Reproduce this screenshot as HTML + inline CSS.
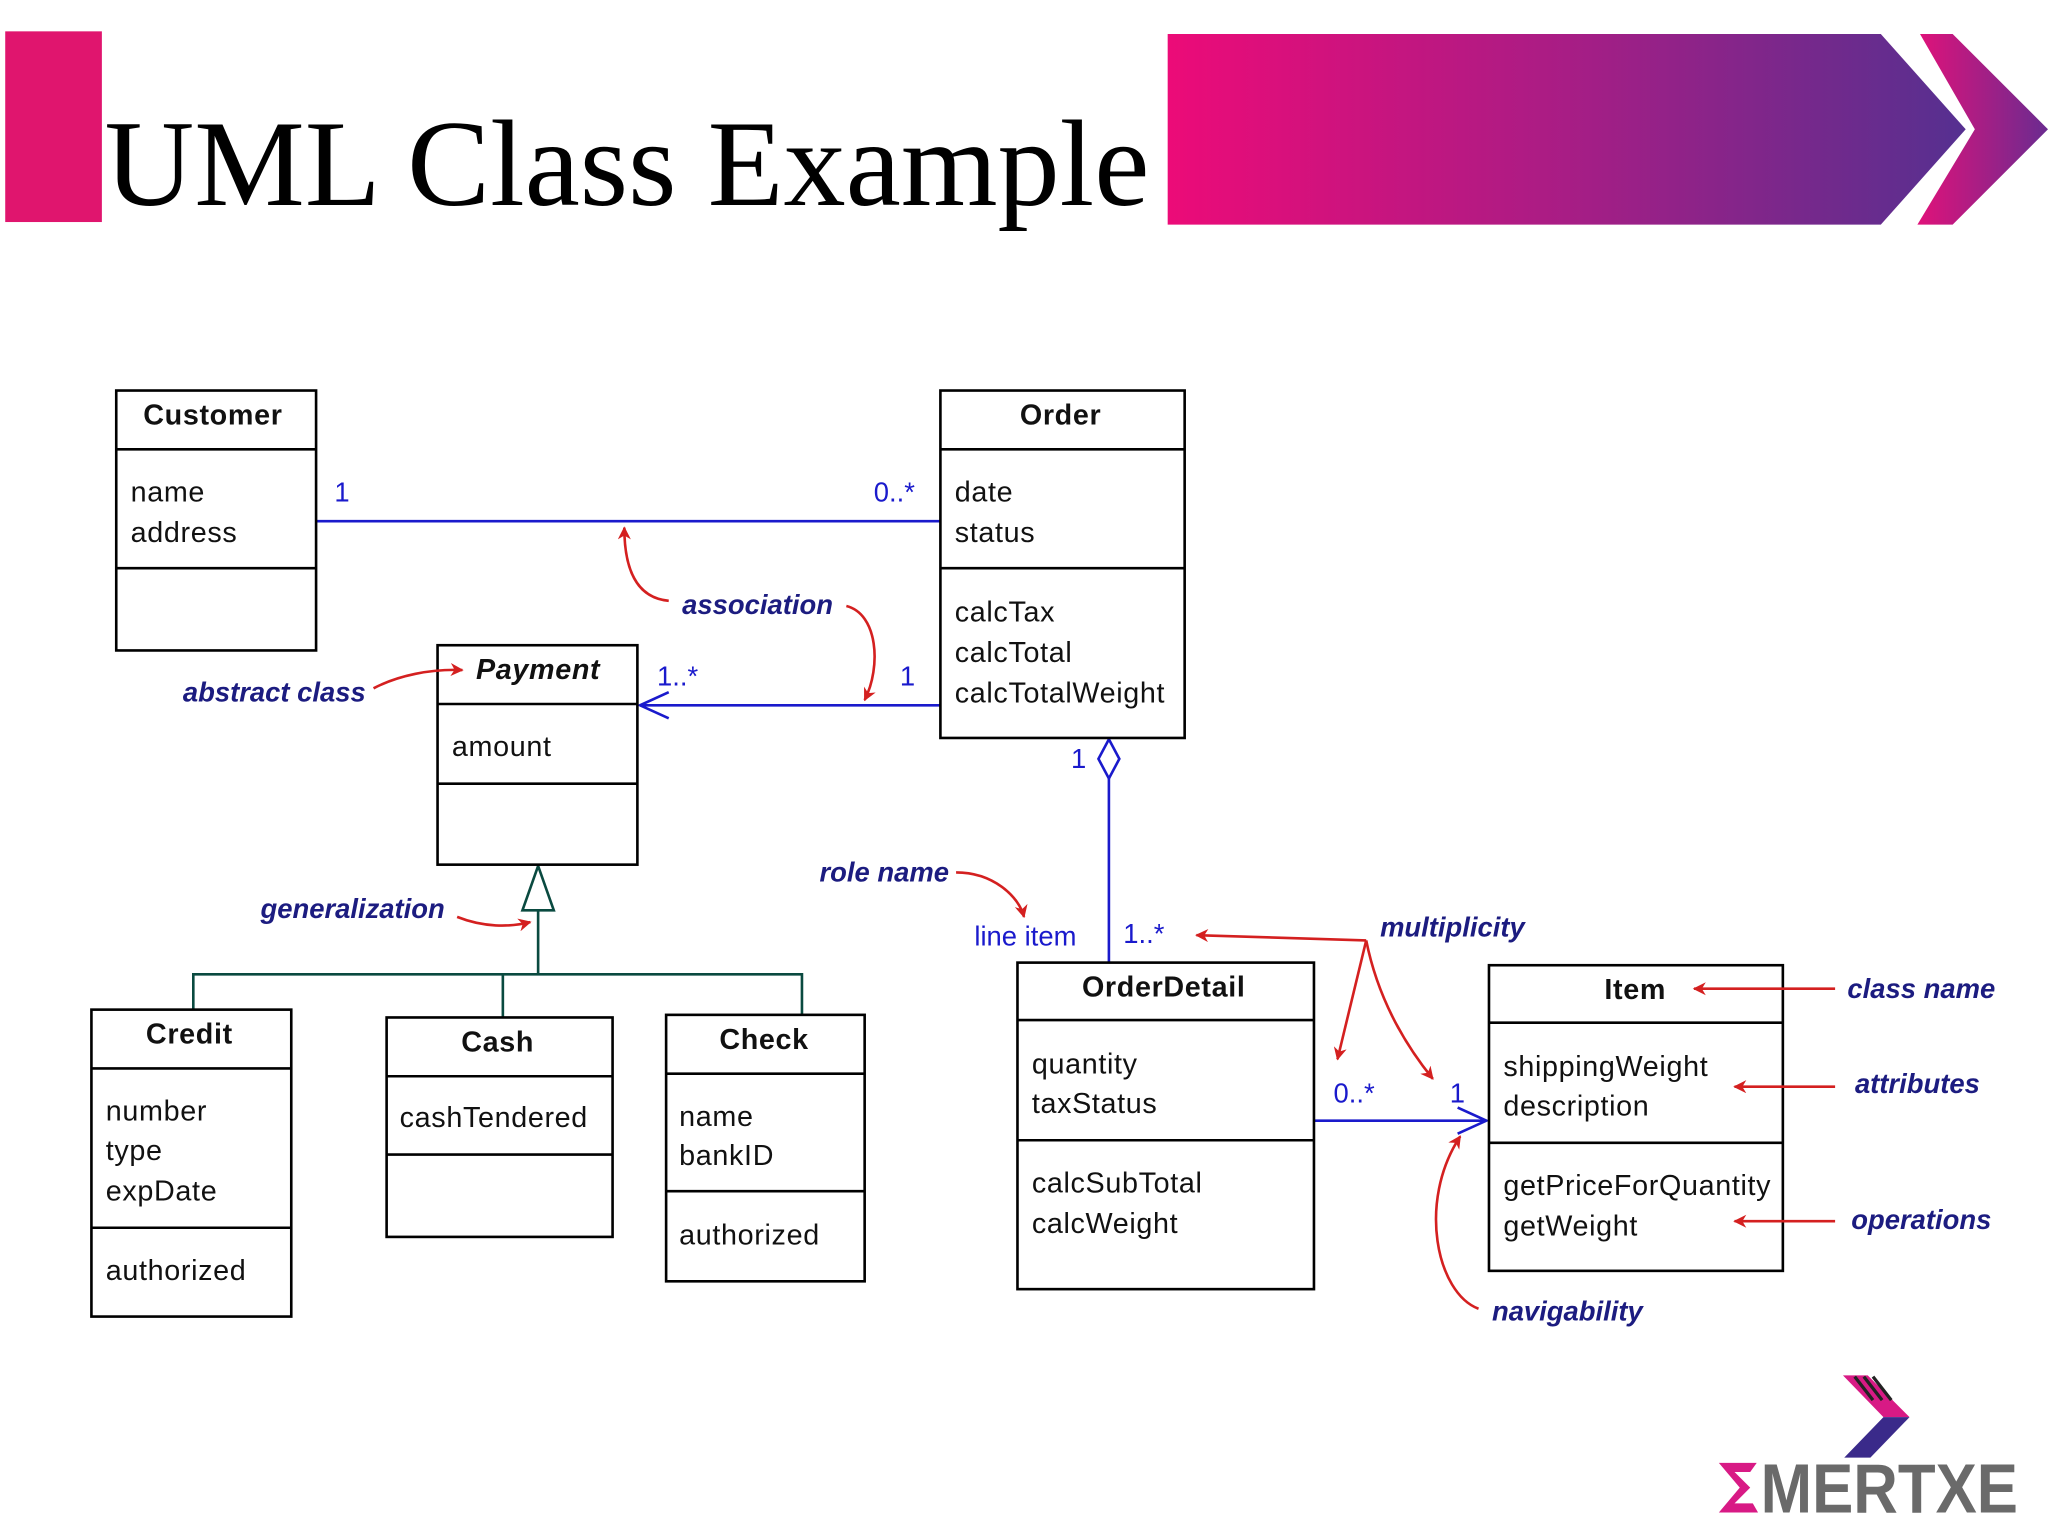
<!DOCTYPE html>
<html><head><meta charset="utf-8"><style>
html,body{margin:0;padding:0;background:#fff;}
svg{display:block}
.t{font-family:"Liberation Sans",sans-serif;font-size:22px;fill:#111;letter-spacing:0.5px}
.b{font-weight:bold;text-anchor:middle}
.bl{font-family:"Liberation Sans",sans-serif;font-size:21px;fill:#1a1acc}
.an{font-family:"Liberation Sans",sans-serif;font-size:21px;fill:#1c1c80;font-style:italic;font-weight:bold;text-anchor:middle}
.box{fill:#fff;stroke:#000;stroke-width:2}
.ln{stroke:#000;stroke-width:2}
.red{fill:none;stroke:#d42020;stroke-width:2}
</style></head><body>
<svg width="2048" height="1536" viewBox="0 0 1568 1176" xmlns="http://www.w3.org/2000/svg">
<defs>
<linearGradient id="g" x1="0" x2="1"><stop offset="0" stop-color="#ec0b78"/><stop offset="0.5" stop-color="#a81d85"/><stop offset="1" stop-color="#553090"/></linearGradient>
<linearGradient id="g2" x1="0" x2="1"><stop offset="0" stop-color="#e0127a"/><stop offset="1" stop-color="#6a2b90"/></linearGradient>
<marker id="ra" markerWidth="10" markerHeight="10" refX="9" refY="5" orient="auto" markerUnits="userSpaceOnUse"><path d="M0,0 L10,5 L0,10 L3,5 Z" fill="#d42020"/></marker>
</defs>
<rect x="4" y="24" width="74" height="146" fill="#e0156e"/>
<text x="80" y="157" font-family="Liberation Serif,serif" font-size="94" fill="#000" textLength="800" lengthAdjust="spacingAndGlyphs">UML Class Example</text>
<path d="M894,26 H1440 L1505,99 L1440,172 H894 Z" fill="url(#g)"/>
<path d="M1470,26 H1495 L1568,99 L1495,172 H1468 L1512,99 Z" fill="url(#g2)"/>

<line x1="242" y1="399" x2="720" y2="399" stroke="#1a1acc" stroke-width="2"/>
<line x1="490" y1="540" x2="720" y2="540" stroke="#1a1acc" stroke-width="2"/>
<path d="M512,530 L490,540 L512,550" fill="none" stroke="#1a1acc" stroke-width="2"/>
<path d="M849,566 L857,581 L849,596 L841,581 Z" fill="#fff" stroke="#1a1acc" stroke-width="2"/>
<line x1="849" y1="596" x2="849" y2="737" stroke="#1a1acc" stroke-width="2"/>
<line x1="1006" y1="858" x2="1138" y2="858" stroke="#1a1acc" stroke-width="2"/>
<path d="M1116,848 L1138,858 L1116,868" fill="none" stroke="#1a1acc" stroke-width="2"/>
<g stroke="#0a4a40" stroke-width="2" fill="none">
<path d="M412,663 L424,697 L400,697 Z" fill="#fff"/>
<path d="M412,697 V746 M148,773 V746 H614 V777 M385,746 V779"/>
</g>

<rect class="box" x="89" y="299" width="153" height="199"/><path class="ln" d="M89,344H242M89,435H242"/>
<text class="t b" x="163" y="325">Customer</text>
<text class="t" x="100" y="384">name</text><text class="t" x="100" y="415">address</text>

<rect class="box" x="720" y="299" width="187" height="266"/><path class="ln" d="M720,344H907M720,435H907"/>
<text class="t b" x="812" y="325">Order</text>
<text class="t" x="731" y="384">date</text><text class="t" x="731" y="415">status</text>
<text class="t" x="731" y="476">calcTax</text><text class="t" x="731" y="507">calcTotal</text><text class="t" x="731" y="538">calcTotalWeight</text>

<rect class="box" x="335" y="494" width="153" height="168"/><path class="ln" d="M335,539H488M335,600H488"/>
<text class="t b" x="412" y="520" font-style="italic">Payment</text>
<text class="t" x="346" y="579">amount</text>

<rect class="box" x="70" y="773" width="153" height="235"/><path class="ln" d="M70,818H223M70,940H223"/>
<text class="t b" x="145" y="799">Credit</text>
<text class="t" x="81" y="858">number</text><text class="t" x="81" y="888">type</text><text class="t" x="81" y="919">expDate</text><text class="t" x="81" y="980">authorized</text>

<rect class="box" x="296" y="779" width="173" height="168"/><path class="ln" d="M296,824H469M296,884H469"/>
<text class="t b" x="381" y="805">Cash</text>
<text class="t" x="306" y="863">cashTendered</text>

<rect class="box" x="510" y="777" width="152" height="204"/><path class="ln" d="M510,822H662M510,912H662"/>
<text class="t b" x="585" y="803">Check</text>
<text class="t" x="520" y="862">name</text><text class="t" x="520" y="892">bankID</text><text class="t" x="520" y="953">authorized</text>

<rect class="box" x="779" y="737" width="227" height="250"/><path class="ln" d="M779,781H1006M779,873H1006"/>
<text class="t b" x="891" y="763">OrderDetail</text>
<text class="t" x="790" y="822">quantity</text><text class="t" x="790" y="852">taxStatus</text>
<text class="t" x="790" y="913">calcSubTotal</text><text class="t" x="790" y="944">calcWeight</text>

<rect class="box" x="1140" y="739" width="225" height="234"/><path class="ln" d="M1140,783H1365M1140,875H1365"/>
<text class="t b" x="1252" y="765">Item</text>
<text class="t" x="1151" y="824">shippingWeight</text><text class="t" x="1151" y="854">description</text>
<text class="t" x="1151" y="915">getPriceForQuantity</text><text class="t" x="1151" y="946">getWeight</text>

<text class="bl" x="256" y="384">1</text>
<text class="bl" x="669" y="384">0..*</text>
<text class="bl" x="503" y="525">1..*</text>
<text class="bl" x="689" y="525">1</text>
<text class="bl" x="820" y="588">1</text>
<text class="bl" x="746" y="724">line item</text>
<text class="bl" x="860" y="722">1..*</text>
<text class="bl" x="1021" y="844">0..*</text>
<text class="bl" x="1110" y="844">1</text>

<text class="an" x="580" y="470">association</text>
<text class="an" x="210" y="537">abstract class</text>
<text class="an" x="270" y="703">generalization</text>
<text class="an" x="677" y="675">role name</text>
<text class="an" x="1112" y="717">multiplicity</text>
<text class="an" x="1471" y="764">class name</text>
<text class="an" x="1468" y="837">attributes</text>
<text class="an" x="1471" y="941">operations</text>
<text class="an" x="1200" y="1011">navigability</text>

<path class="red" marker-end="url(#ra)" d="M512,460 C490,458 478,440 478,404"/>
<path class="red" marker-end="url(#ra)" d="M648,464 C672,470 675,510 662,536"/>
<path class="red" marker-end="url(#ra)" d="M286,527 C305,517 330,512 354,513"/>
<path class="red" marker-end="url(#ra)" d="M350,702 C370,710 390,710 406,706"/>
<path class="red" marker-end="url(#ra)" d="M732,668 C760,668 780,686 784,702"/>
<path class="red" marker-end="url(#ra)" d="M1046,720 L916,716"/>
<path class="red" marker-end="url(#ra)" d="M1046,720 L1024,811"/>
<path class="red" marker-end="url(#ra)" d="M1046,720 C1056,770 1080,805 1097,826"/>
<path class="red" marker-end="url(#ra)" d="M1405,757 L1297,757"/>
<path class="red" marker-end="url(#ra)" d="M1405,832 L1328,832"/>
<path class="red" marker-end="url(#ra)" d="M1405,935 L1328,935"/>
<path class="red" marker-end="url(#ra)" d="M1132,1002 C1100,990 1085,920 1118,870"/>

<!-- logo -->
<path d="M1411,1053 H1430 L1462,1085 H1442 Z" fill="#d81a85"/>
<path d="M1442,1085 H1462 L1432,1116 H1412 Z" fill="#3a2a8a"/>
<path d="M1420,1054 L1434,1072 M1427,1054 L1441,1072 M1434,1054 L1448,1072" stroke="#222" stroke-width="2.5"/>
<path d="M1316,1120 H1345 L1340,1127 H1328 L1340,1139 L1328,1151 H1342 L1346,1158 H1316 L1332,1139 Z" fill="#d81a85"/>
<text x="1348" y="1158" font-family="Liberation Sans,sans-serif" font-weight="bold" font-size="53" fill="#6a6a6a" textLength="197" lengthAdjust="spacingAndGlyphs">MERTXE</text>
</svg>
</body></html>
